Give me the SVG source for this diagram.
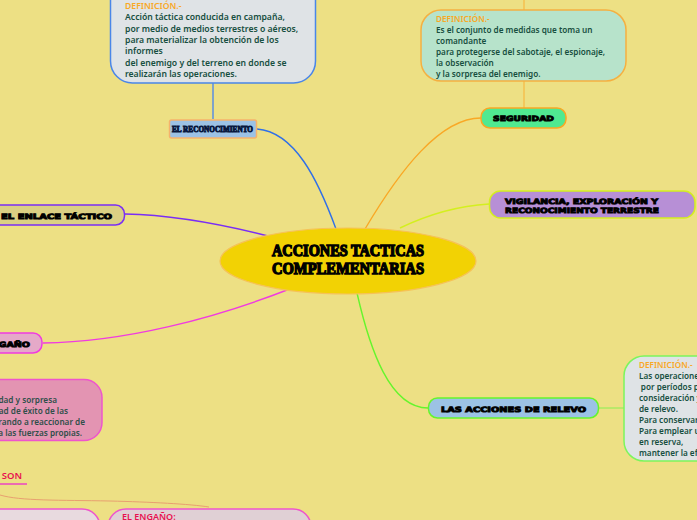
<svg xmlns="http://www.w3.org/2000/svg" width="697" height="520" viewBox="0 0 697 520">
<style>
.t{font-family:"Noto Sans","Open Sans",sans-serif;font-size:9px;font-weight:600;fill:#174f3f}
.p{fill:#2f4f4a;text-anchor:end}
.d{fill:#f9a825}
.r{fill:#e8114f}
.n{font-family:"DejaVu Sans",sans-serif;font-weight:700;fill:#000;stroke:#000;stroke-width:.9;font-size:7.200px}
.m{font-family:"Liberation Serif",serif;font-size:7.600px;stroke:#06163c;fill:#06163c}
.h{font-family:"Liberation Serif",serif;font-weight:700;fill:#000;stroke:#000;stroke-width:1.400;font-size:16px}
.c{fill:none;stroke-width:1.400}
.b{stroke-width:1.500}
</style>
<rect width="697" height="520" fill="#ede084"/>
<g id="connectors">
<path class="c" d="M257 129C295 132 318 180 336 229" stroke="#2f6fe8"/>
<path class="c" d="M481 118C440 118 400 170 365 229" stroke="#f9a825"/>
<path class="c" d="M489 204C455 206 425 216 400 228" stroke="#d4ef1f"/>
<path class="c" d="M125 214C175 215 225 225 268 236" stroke="#7a2df5"/>
<path class="c" d="M43 343C125 342 215 318 287 290" stroke="#f03be0"/>
<path class="c" d="M357 293C370 350 390 408 428 408" stroke="#66f52c"/>
<path d="M213 83V119" stroke="#5b8fe0" stroke-width="1.500" fill="none"/>
<path d="M524 0V10M524 81V108" stroke="#f5c04f" stroke-width="1.500" fill="none"/>
<path d="M598 408H624" stroke="#88f050" stroke-width="1" fill="none"/>
<path d="M0 495C20 501 60 500 110 501C150 502 190 504 209 507" stroke="#e8a070" stroke-width="1" fill="none"/>
</g>
<g id="root"><ellipse cx="348" cy="261" rx="128" ry="33" fill="#f2d204" stroke="#f6c257" stroke-width="1.200"/>
<text class="h" x="272" y="256" textLength="152" lengthAdjust="spacingAndGlyphs">ACCIONES TACTICAS</text><text class="h" x="272" y="273.500" textLength="152" lengthAdjust="spacingAndGlyphs">COMPLEMENTARIAS</text></g>
<g id="reconocimiento"><rect x="169.500" y="120" width="87" height="18" rx="2" fill="#9cc2e5" stroke="#f6b26b" stroke-width="1.500"/>
<text class="n m" x="172" y="131.500" textLength="81" lengthAdjust="spacingAndGlyphs">EL RECONOCIMIENTO</text></g>
<g id="reconocimiento-def"><rect class="b" x="110.500" y="-22" width="205" height="105" rx="22" fill="#dfe3e6" stroke="#4a86e8"/>
<g transform="translate(125 0) scale(.96 1)">
<text class="t d" x="0" y="8.500">DEFINICIÓN.-</text>
<text class="t" x="0" y="20.500">Acción táctica conducida en campaña,</text>
<text class="t" x="0" y="32">por medio de medios terrestres o aéreos,</text>
<text class="t" x="0" y="43.500">para materializar la obtención de los</text>
<text class="t" x="0" y="54.500">informes</text>
<text class="t" x="0" y="66">del enemigo y del terreno en donde se</text>
<text class="t" x="0" y="77.500">realizarán las operaciones.</text></g></g>
<g id="seguridad-def"><rect class="b" x="421" y="10" width="205" height="71" rx="20" fill="#b7e3cb" stroke="#f5b041"/>
<g transform="translate(436 0) scale(.91 1)">
<text class="t d" x="0" y="22">DEFINICIÓN.-</text>
<text class="t" x="0" y="33">Es el conjunto de medidas que toma un</text>
<text class="t" x="0" y="44">comandante</text>
<text class="t" x="0" y="55">para protegerse del sabotaje, el espionaje,</text>
<text class="t" x="0" y="66">la observación</text>
<text class="t" x="0" y="77">y la sorpresa del enemigo.</text></g></g>
<g id="seguridad"><rect class="b" x="481" y="108" width="85" height="20" rx="9" fill="#50e991" stroke="#f9a825"/>
<text class="n" x="493" y="121" textLength="61" lengthAdjust="spacingAndGlyphs">SEGURIDAD</text></g>
<g id="vigilancia"><rect class="b" x="489.500" y="191" width="205.500" height="27" rx="11" fill="#b78fd6" stroke="#d4ef1f"/>
<text class="n" x="505" y="203.500" textLength="153" lengthAdjust="spacingAndGlyphs">VIGILANCIA, EXPLORACIÓN Y</text>
<text class="n" x="505" y="212.500" textLength="154" lengthAdjust="spacingAndGlyphs">RECONOCIMIENTO TERRESTRE</text></g>
<g id="enlace"><rect class="b" x="-30" y="205" width="154.500" height="20" rx="9" fill="#dbd083" stroke="#7a2df5"/>
<text class="n" x="1" y="218.500" textLength="111" lengthAdjust="spacingAndGlyphs">EL ENLACE TÁCTICO</text></g>
<g id="engano"><rect class="b" x="-30" y="333" width="72" height="20" rx="9" fill="#e5a9c8" stroke="#f03be0"/>
<text class="n" x="-32" y="347" textLength="62" lengthAdjust="spacingAndGlyphs">EL ENGAÑO</text></g>
<g id="engano-def"><rect class="b" x="-60" y="379.500" width="162" height="61" rx="18" fill="#e394b2" stroke="#ee55cc"/>
<g transform="scale(.91 1)">
<text class="t p" x="62.600" y="403">dad y sorpresa</text>
<text class="t p" x="74.700" y="414">ad de éxito de las</text>
<text class="t p" x="93.400" y="425">rando a reaccionar de</text>
<text class="t p" x="90.100" y="436">a las fuerzas propias.</text></g></g>
<g id="son"><text class="t r" x="22" y="479" text-anchor="end" style="font-size:9.500px">S SON</text><path d="M0 484H27" stroke="#ea1fd0" stroke-width="1.200"/></g>
<g id="box-left"><rect class="b" x="-60" y="509" width="160" height="40" rx="18" fill="#e8dadf" stroke="#ee55cc"/></g>
<g id="box-right"><rect class="b" x="108" y="509" width="203" height="40" rx="18" fill="#e0d0d5" stroke="#ee55cc"/>
<text class="t r" x="122" y="520">EL ENGAÑO:</text></g>
<g id="relevo"><rect class="b" x="428.500" y="398" width="170" height="20" rx="9" fill="#9cc2e5" stroke="#66f52c"/>
<text class="n" x="441" y="412" textLength="145" lengthAdjust="spacingAndGlyphs">LAS ACCIONES DE RELEVO</text></g>
<g id="relevo-def"><rect class="b" x="624" y="356" width="140" height="105" rx="20" fill="#dfe3e6" stroke="#7cf55c"/>
<g transform="translate(639 0) scale(.91 1)">
<text class="t d" x="0" y="368">DEFINICIÓN.-</text>
<text class="t" x="0" y="379">Las operacione</text>
<text class="t" x="2" y="390">por períodos p</text>
<text class="t" x="0" y="401">consideración y</text>
<text class="t" x="0" y="412">de relevo.</text>
<text class="t" x="0" y="423">Para conservar</text>
<text class="t" x="0" y="434">Para emplear u</text>
<text class="t" x="0" y="445">en reserva,</text>
<text class="t" x="0" y="456">mantener la ef</text></g></g>
</svg>
